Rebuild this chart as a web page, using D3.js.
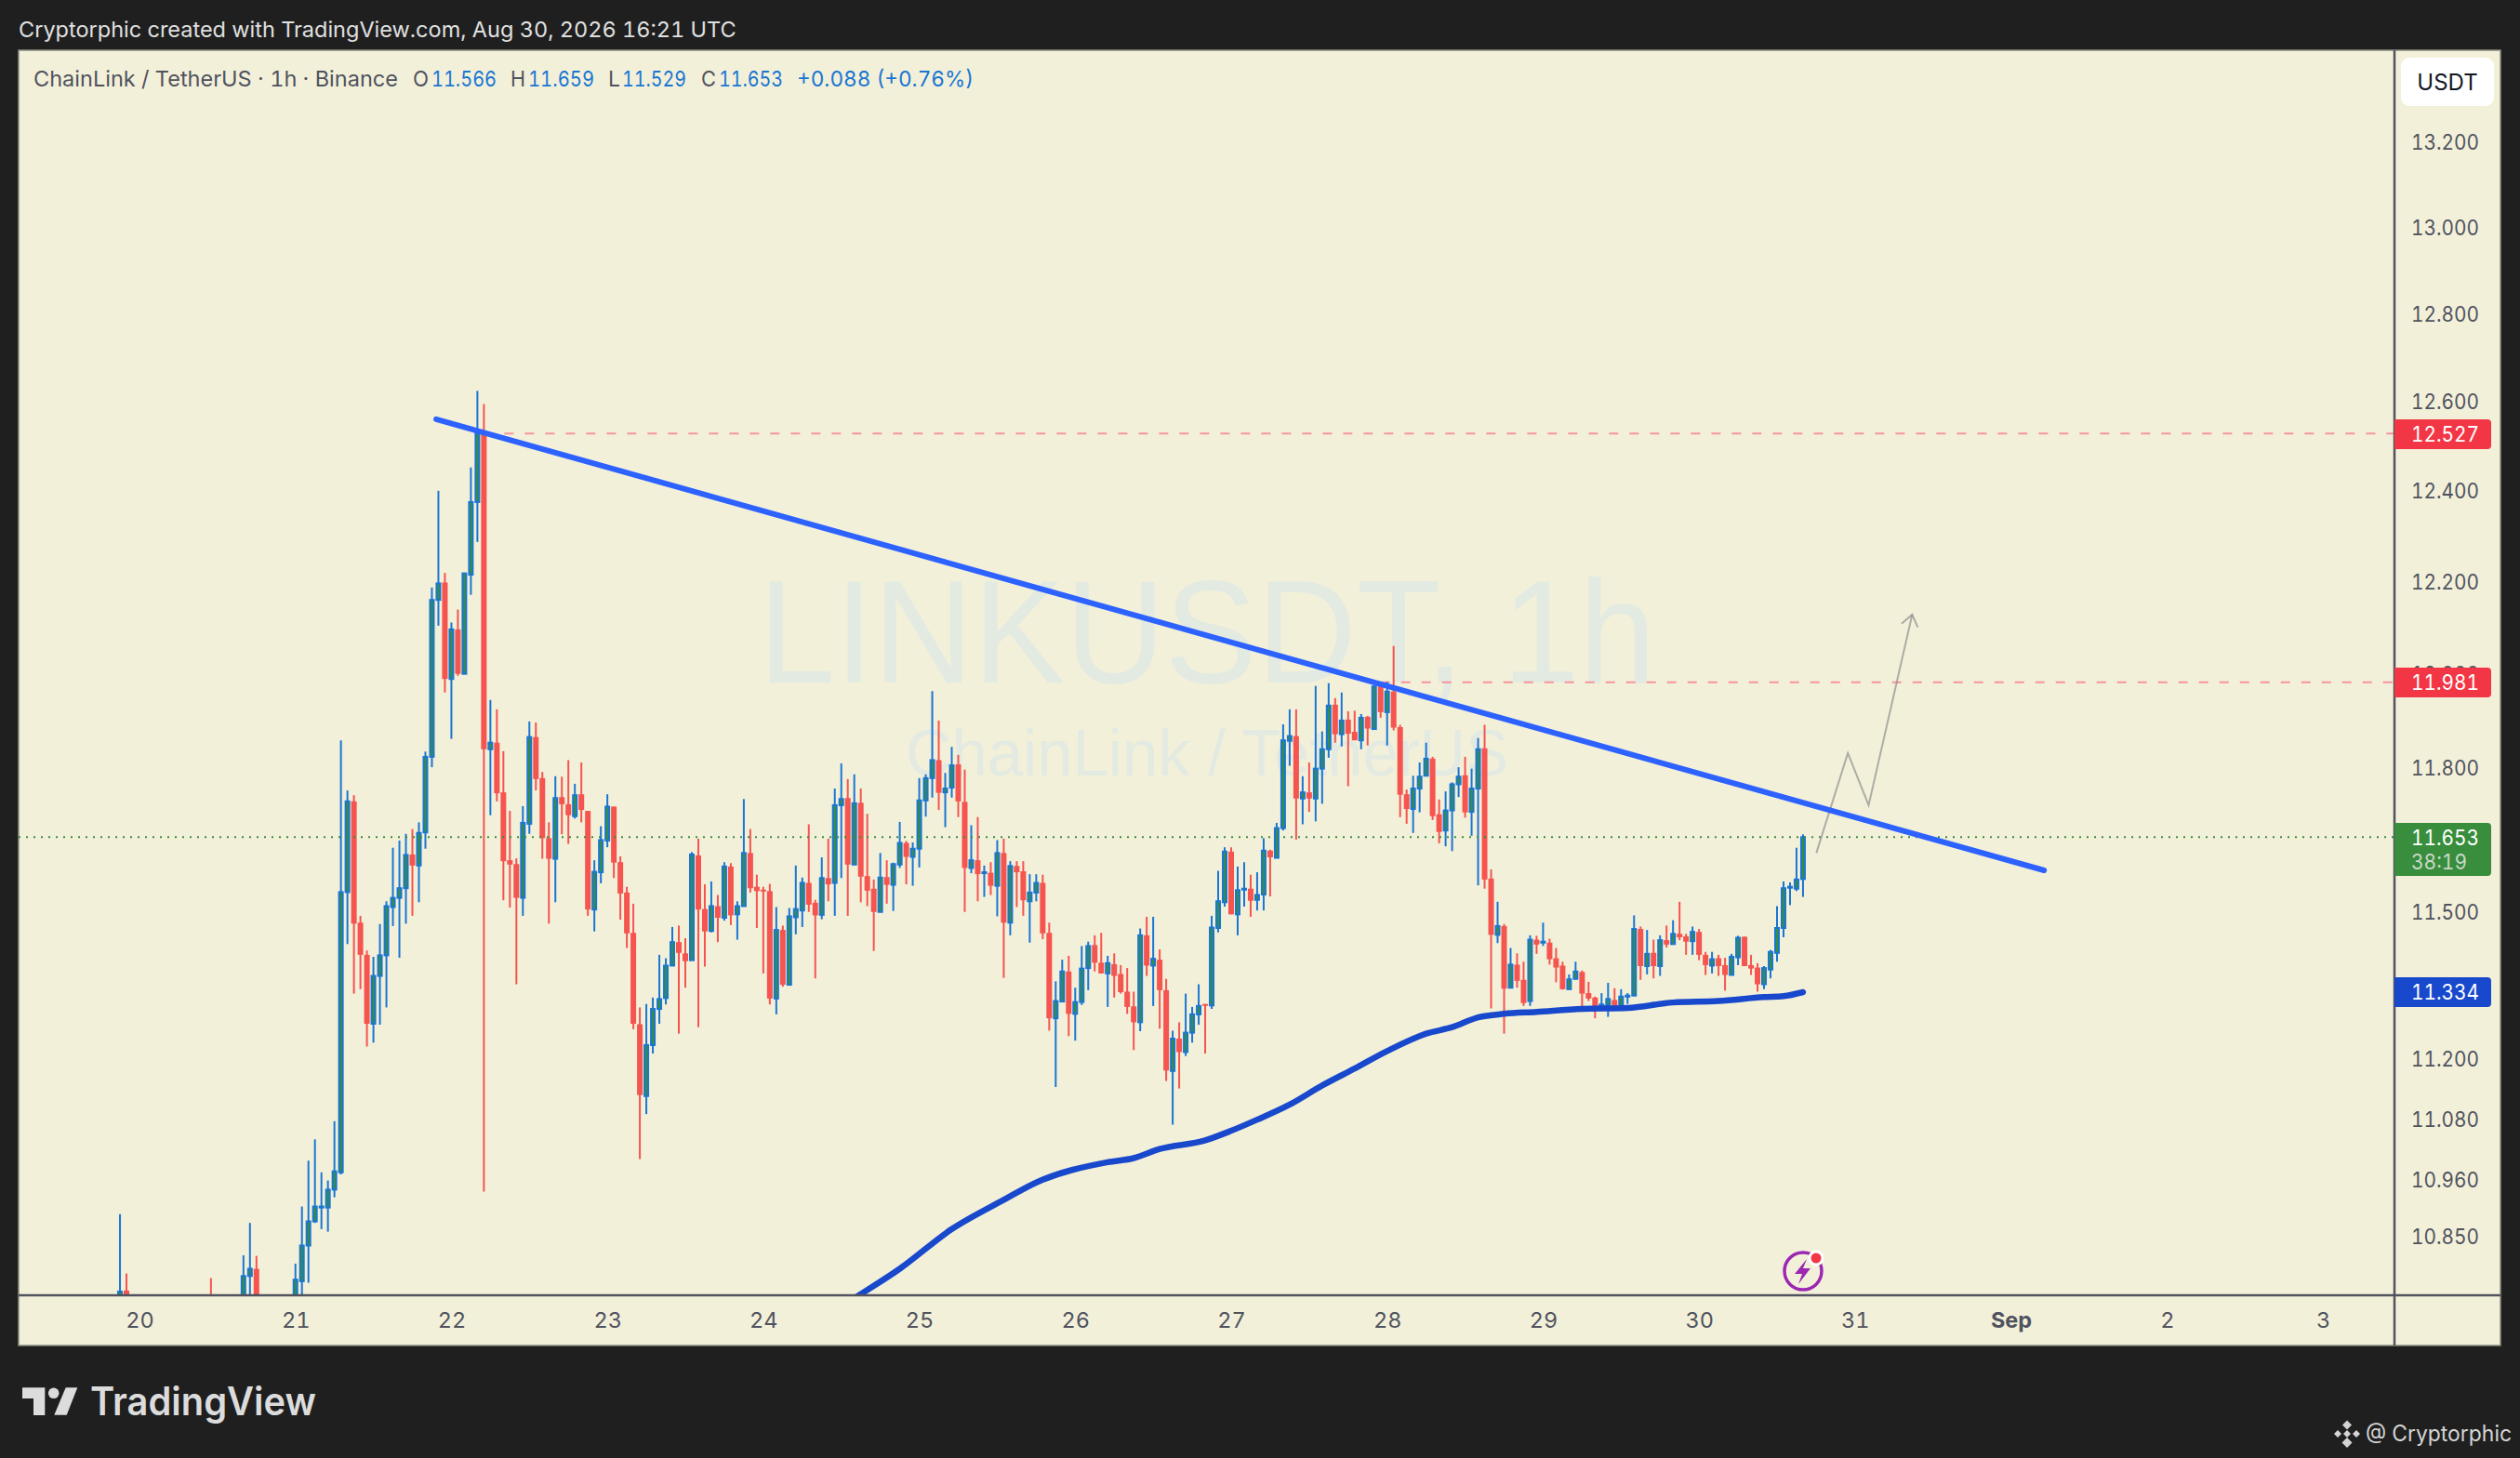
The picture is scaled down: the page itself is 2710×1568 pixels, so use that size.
<!DOCTYPE html>
<html>
<head>
<meta charset="utf-8">
<title>LINKUSDT 1h</title>
<script src="https://cdn.jsdelivr.net/npm/d3@7"></script>
<style>
  html, body { margin: 0; padding: 0; background: #1f1f1f; }
  svg { display: block; }
  text { font-family: Inter, "Noto Sans", sans-serif; font-variant-numeric: tabular-nums; }
</style>
</head>
<body>
<svg width="2710" height="1568"></svg>
<script>
// candles are hourly, hour 0 = Aug 20 00:00 UTC. null = bar sits below the pane, nothing to read
const firstHour = -3;
const opens = [10.70,10.744,null,null,null,null,null,null,null,null,null,null,null,null,10.72,null,null,null,null,10.70,10.772,10.786,null,null,null,null,null,
  10.71,10.762,10.831,10.878,10.905,10.905,10.94,10.974,11.539,11.728,11.476,11.41,11.27,11.367,11.409,11.508,11.527,11.547,11.617,11.594,11.663,11.822,12.159,12.197,
  11.988,12.095,11.999,12.214,12.374,12.527,11.838,11.852,11.747,11.605,11.597,11.527,11.681,11.864,11.777,11.651,11.608,11.737,11.722,11.697,11.743,11.708,11.503,11.58,
  11.646,11.717,11.601,11.538,11.455,11.269,11.125,11.227,11.3,11.322,11.388,11.436,11.413,11.399,11.615,11.504,11.459,11.51,11.486,11.592,11.493,11.51,11.62,11.55,
  11.544,11.541,11.321,11.461,11.349,11.487,11.501,11.558,11.517,11.492,11.568,11.558,11.72,11.735,11.596,11.725,11.572,11.546,11.498,11.57,11.554,11.596,11.641,11.612,
  11.629,11.73,11.777,11.815,11.747,11.757,11.806,11.727,11.589,11.605,11.579,11.579,11.552,11.62,11.476,11.593,11.582,11.52,11.538,11.558,11.455,11.281,11.315,11.376,
  11.29,11.314,11.383,11.43,11.394,11.372,11.391,11.371,11.335,11.305,11.273,11.45,11.388,11.4,11.338,11.175,11.24,11.213,11.252,11.289,11.31,11.307,11.465,11.518,
  11.623,11.493,11.544,11.546,11.523,11.534,11.625,11.61,11.672,11.856,11.866,11.734,11.747,11.734,11.797,11.838,11.933,11.87,11.901,11.875,11.857,11.907,11.881,11.972,
  11.917,11.961,11.885,11.743,11.712,11.755,11.782,11.818,11.701,11.667,11.709,11.764,11.783,11.706,11.755,11.84,11.567,11.451,11.469,11.343,11.39,11.359,11.316,11.441,
  11.435,11.435,11.403,11.388,11.34,11.361,11.375,11.332,11.323,11.308,11.307,11.318,11.302,11.325,11.327,11.463,11.387,11.414,11.387,11.44,11.432,11.453,11.448,11.438,
  11.457,11.41,11.388,11.403,11.389,11.369,11.405,11.447,11.389,11.384,11.35,11.38,11.414,11.465,11.548,11.546,11.566];
const highs = [10.892,10.777,null,null,null,null,null,null,null,null,null,null,null,null,10.768,null,null,null,null,10.812,10.875,10.811,null,null,null,null,null,
  10.796,10.907,10.997,11.039,10.974,10.958,11.075,11.857,11.751,11.741,11.49,11.419,11.406,11.473,11.52,11.631,11.646,11.66,11.67,11.684,11.833,12.186,12.399,12.218,
  12.11,12.138,12.217,12.451,12.623,12.593,11.943,11.923,11.834,11.708,11.609,11.718,11.897,11.895,11.79,11.684,11.781,11.78,11.815,11.765,11.81,11.708,11.605,11.676,
  11.743,11.717,11.613,11.55,11.515,11.303,11.31,11.323,11.41,11.403,11.467,11.47,11.444,11.622,11.65,11.555,11.561,11.533,11.601,11.599,11.52,11.733,11.67,11.575,
  11.55,11.556,11.508,11.47,11.506,11.594,11.569,11.68,11.523,11.611,11.65,11.755,11.808,11.775,11.785,11.755,11.702,11.565,11.62,11.605,11.6,11.685,11.645,11.642,
  11.777,11.785,11.962,11.899,11.788,11.843,11.826,11.795,11.678,11.695,11.594,11.601,11.647,11.65,11.603,11.603,11.603,11.576,11.576,11.575,11.476,11.356,11.4,11.408,
  11.343,11.428,11.437,11.45,11.455,11.408,11.413,11.389,11.383,11.335,11.464,11.488,11.488,11.421,11.361,11.256,11.273,11.331,11.304,11.35,11.31,11.49,11.583,11.632,
  11.632,11.592,11.601,11.575,11.58,11.651,11.627,11.683,11.891,11.923,11.923,11.781,11.81,11.973,11.876,11.979,11.947,11.959,11.919,11.92,11.913,11.909,11.975,11.981,
  11.982,12.059,11.89,11.753,11.782,11.81,11.852,11.822,11.732,11.749,11.768,11.80,11.822,11.797,11.862,11.89,11.586,11.519,11.473,11.424,11.413,11.396,11.45,11.449,
  11.476,11.443,11.424,11.396,11.37,11.396,11.378,11.355,11.325,11.332,11.353,11.342,11.34,11.332,11.491,11.468,11.461,11.441,11.45,11.47,11.481,11.519,11.453,11.468,
  11.463,11.416,11.416,11.41,11.404,11.412,11.449,11.447,11.41,11.393,11.387,11.42,11.51,11.561,11.559,11.631,11.659];
const lows = [10.70,10.70,null,null,null,null,null,null,null,null,null,null,null,null,10.69,null,null,null,null,10.70,10.70,10.70,null,null,null,null,null,
  10.70,10.70,10.759,10.875,10.863,10.858,10.925,10.97,11.432,11.331,11.34,11.224,11.232,11.268,11.303,11.469,11.404,11.474,11.49,11.518,11.629,11.80,12.103,11.959,
  11.86,11.995,11.999,12.17,12.286,10.936,11.699,11.728,11.522,11.507,11.35,11.49,11.66,11.751,11.608,11.474,11.518,11.659,11.639,11.692,11.684,11.49,11.458,11.557,
  11.632,11.568,11.482,11.424,11.259,11.0,11.089,11.21,11.27,11.309,11.388,11.25,11.343,11.399,11.263,11.386,11.456,11.436,11.48,11.471,11.441,11.51,11.538,11.465,
  11.372,11.309,11.289,11.345,11.349,11.452,11.467,11.498,11.362,11.483,11.52,11.49,11.568,11.49,11.596,11.518,11.51,11.418,11.498,11.515,11.5,11.589,11.555,11.552,
  11.59,11.696,11.736,11.71,11.674,11.736,11.695,11.498,11.578,11.52,11.529,11.533,11.489,11.363,11.45,11.508,11.49,11.435,11.52,11.442,11.256,11.143,11.315,11.245,
  11.236,11.308,11.338,11.376,11.372,11.304,11.323,11.331,11.29,11.217,11.255,11.367,11.306,11.26,11.155,11.068,11.14,11.205,11.232,11.268,11.21,11.3,11.456,11.509,
  11.493,11.45,11.509,11.488,11.501,11.501,11.53,11.61,11.667,11.803,11.648,11.68,11.706,11.686,11.723,11.82,11.852,11.844,11.76,11.857,11.838,11.846,11.881,11.905,
  11.846,11.878,11.695,11.681,11.662,11.705,11.782,11.689,11.64,11.634,11.624,11.737,11.694,11.656,11.553,11.546,11.301,11.434,11.25,11.343,11.343,11.306,11.306,11.412,
  11.428,11.39,11.354,11.339,11.34,11.359,11.294,11.316,11.281,11.301,11.284,11.3,11.302,11.31,11.327,11.359,11.37,11.362,11.367,11.425,11.432,11.44,11.41,11.41,
  11.399,11.369,11.372,11.367,11.337,11.369,11.389,11.387,11.369,11.335,11.34,11.362,11.396,11.446,11.512,11.541,11.529];
const closes = [10.742,10.70,null,null,null,null,null,null,null,null,null,null,null,null,10.70,null,null,null,null,10.772,10.786,10.71,null,null,null,null,null,
  10.765,10.831,10.878,10.907,10.907,10.94,10.976,11.539,11.728,11.474,11.41,11.27,11.367,11.409,11.51,11.527,11.547,11.616,11.594,11.662,11.822,12.159,12.195,11.988,
  12.095,11.999,12.217,12.374,12.527,11.838,11.852,11.745,11.603,11.596,11.527,11.683,11.864,11.775,11.651,11.608,11.735,11.722,11.699,11.741,11.71,11.503,11.581,11.647,
  11.717,11.6,11.536,11.454,11.27,11.127,11.227,11.3,11.32,11.388,11.436,11.414,11.397,11.617,11.503,11.458,11.51,11.486,11.592,11.491,11.51,11.62,11.547,11.541,
  11.541,11.321,11.461,11.349,11.489,11.504,11.558,11.513,11.491,11.568,11.555,11.72,11.733,11.596,11.724,11.571,11.542,11.498,11.569,11.554,11.597,11.641,11.612,11.629,
  11.73,11.777,11.815,11.746,11.755,11.804,11.728,11.589,11.605,11.576,11.58,11.552,11.62,11.476,11.593,11.58,11.522,11.538,11.558,11.454,11.281,11.316,11.376,11.29,
  11.314,11.382,11.428,11.394,11.372,11.393,11.367,11.334,11.304,11.273,11.45,11.388,11.402,11.338,11.176,11.24,11.213,11.252,11.289,11.306,11.307,11.466,11.52,11.623,
  11.493,11.543,11.546,11.521,11.533,11.625,11.611,11.672,11.857,11.866,11.734,11.747,11.734,11.797,11.838,11.931,11.87,11.899,11.871,11.857,11.905,11.882,11.972,11.917,
  11.961,11.884,11.742,11.712,11.755,11.78,11.818,11.697,11.664,11.709,11.764,11.78,11.705,11.755,11.838,11.565,11.451,11.469,11.341,11.39,11.357,11.312,11.441,11.431,
  11.437,11.401,11.384,11.34,11.36,11.376,11.331,11.321,11.305,11.309,11.32,11.3,11.325,11.327,11.463,11.387,11.412,11.387,11.44,11.431,11.453,11.446,11.437,11.457,
  11.41,11.389,11.401,11.387,11.369,11.406,11.445,11.387,11.382,11.35,11.383,11.416,11.465,11.547,11.55,11.565,11.653];

// moving average, read at these hours
const maHours = [108,111,117,125,133,138,149,153,157,164,168,172,177,182,187,192,198,202,206,210,215,222,229,236,243,250,253,256];
const maValues = [10.713,10.737,10.786,10.863,10.92,10.954,10.994,11.002,11.02,11.037,11.056,11.078,11.108,11.146,11.18,11.215,11.25,11.263,11.283,11.29,11.294,11.30,11.302,11.313,11.316,11.324,11.326,11.334];

// drawings
const trendHours = [45.66,293.1];
const trendPrices = [12.559,11.584];
const arrowHours = [258.05,262.9,266.1,272.8];
const arrowPrices = [11.62,11.83,11.72,12.127];
const levelPrices = [12.527,11.981];
const levelStart = [53,191];
const lastPrice = 11.653;
const maPrice = 11.334;

const priceTicks = [13.2,13.0,12.8,12.6,12.4,12.2,12.0,11.8,11.5,11.2,11.08,10.96,10.85];
const dayHours = [0,24,48,72,96,120,144,168,192,216,240,264,288,312,336];
const dayLabels = ['20','21','22','23','24','25','26','27','28','29','30','31','Sep','2','3'];

(function (d3) {
  'use strict';

  const svg = d3.select('svg');
  const pane = { left: 20, top: 54, right: 2575, bottom: 1393, outerRight: 2689, outerBottom: 1447 };
  const axisColor = '#50535e';
  const upBorder = '#1976d2', upFill = '#388e3c', downColor = '#f5544f';

  const x = d3.scaleLinear().domain([0, 336]).range([150, 2498]);
  const y = d3.scaleLog().domain([13.2, 10.85]).range([152, 1329]);

  svg.append('rect').attr('width', 2710).attr('height', 1568).attr('fill', '#1f1f1f');
  svg.append('rect')
    .attr('x', pane.left).attr('y', pane.top)
    .attr('width', pane.outerRight - pane.left).attr('height', pane.outerBottom - pane.top)
    .attr('fill', '#f3f0da').attr('stroke', '#8b8b80').attr('stroke-width', 1.5);

  svg.append('defs').append('clipPath').attr('id', 'plot').append('rect')
    .attr('x', pane.left).attr('y', pane.top)
    .attr('width', pane.right - pane.left).attr('height', pane.bottom - pane.top);

  // header
  svg.append('text').attr('x', 20).attr('y', 40)
    .attr('font-size', 23.5).attr('fill', '#e0e0e0')
    .text('Cryptorphic created with TradingView.com, Aug 30, 2026 16:21 UTC');

  // legend: x, text, colour, width
  const legendParts = [
    [36, 'ChainLink / TetherUS · 1h · Binance', axisColor, 392],
    [444, 'O', axisColor, 17], [464, '11.566', upBorder, 70],
    [549, 'H', axisColor, 16], [568, '11.659', upBorder, 71],
    [654, 'L', axisColor, 13], [669, '11.529', upBorder, 69],
    [754, 'C', axisColor, 16], [773, '11.653', upBorder, 69],
    [857, '+0.088 (+0.76%)', upBorder, 190]
  ];
  svg.append('g').selectAll('text').data(legendParts).join('text')
    .attr('x', d => d[0]).attr('y', 92.5).attr('font-size', 23.5)
    .attr('fill', d => d[2])
    .attr('textLength', d => d[3]).attr('lengthAdjust', 'spacingAndGlyphs')
    .text(d => d[1]);

  // watermark
  const watermark = svg.append('g').attr('fill', '#e3eae1').attr('text-anchor', 'middle');
  watermark.append('text').attr('x', 1298).attr('y', 734)
    .style('font-family', '"Liberation Sans", sans-serif').attr('font-size', 157)
    .attr('textLength', 965).attr('lengthAdjust', 'spacingAndGlyphs').text('LINKUSDT, 1h');
  watermark.append('text').attr('x', 1298).attr('y', 834)
    .style('font-family', '"Liberation Sans", sans-serif').attr('font-size', 71)
    .attr('textLength', 648).attr('lengthAdjust', 'spacingAndGlyphs').text('ChainLink / TetherUS');

  const plot = svg.append('g').attr('clip-path', 'url(#plot)');

  // dashed horizontal levels
  plot.selectAll('line.level').data(levelPrices).join('line')
    .attr('class', 'level')
    .attr('x1', (d, i) => x(levelStart[i])).attr('x2', pane.right)
    .attr('y1', d => y(d)).attr('y2', d => y(d))
    .attr('stroke', '#f7949c').attr('stroke-width', 2).attr('stroke-dasharray', '10 12');

  // candles
  const candles = opens.map((o, i) => ({
    h: firstHour + i, o, hi: highs[i], lo: lows[i], c: closes[i]
  })).filter(d => d.o !== null);
  const isUp = d => d.c >= d.o;

  plot.selectAll('line.wick').data(candles).join('line')
    .attr('class', 'wick')
    .attr('x1', d => x(d.h)).attr('x2', d => x(d.h))
    .attr('y1', d => y(d.hi)).attr('y2', d => y(d.lo))
    .attr('stroke', d => isUp(d) ? upBorder : downColor).attr('stroke-width', 2);

  plot.selectAll('rect.body').data(candles).join('rect')
    .attr('class', 'body')
    .attr('x', d => x(d.h) - (isUp(d) ? 2 : 3))
    .attr('width', d => isUp(d) ? 4 : 6)
    .attr('y', d => y(Math.max(d.o, d.c)))
    .attr('height', d => Math.max(isUp(d) ? 1 : 2, y(Math.min(d.o, d.c)) - y(Math.max(d.o, d.c))))
    .attr('fill', d => isUp(d) ? upFill : downColor)
    .attr('stroke', d => isUp(d) ? upBorder : 'none').attr('stroke-width', 2);

  // last price
  plot.append('line')
    .attr('x1', pane.left).attr('x2', pane.right)
    .attr('y1', y(lastPrice)).attr('y2', y(lastPrice))
    .attr('stroke', upFill).attr('stroke-width', 2).attr('stroke-dasharray', '2 6');

  // moving average
  const maLine = d3.line().x(d => x(d[0])).y(d => y(d[1])).curve(d3.curveMonotoneX);
  plot.append('path')
    .attr('d', maLine(maHours.map((h, i) => [h, maValues[i]])))
    .attr('fill', 'none').attr('stroke', '#1848cc').attr('stroke-width', 6.5).attr('stroke-linecap', 'round');

  // projected path
  const straight = d3.line().x(d => x(d[0])).y(d => y(d[1]));
  const arrowPts = arrowHours.map((h, i) => [h, arrowPrices[i]]);
  const tip = [x(arrowPts[3][0]), y(arrowPts[3][1])];
  const prev = [x(arrowPts[2][0]), y(arrowPts[2][1])];
  const ang = Math.atan2(tip[1] - prev[1], tip[0] - prev[0]);
  const headLen = 15;
  const arrow = plot.append('g').attr('fill', 'none').attr('stroke', '#8f8f8f').attr('stroke-opacity', 0.7).attr('stroke-width', 2);
  arrow.append('path').attr('d', straight(arrowPts));
  arrow.append('path').attr('d', d3.line()([
    [tip[0] + headLen * Math.cos(ang + 2.5), tip[1] + headLen * Math.sin(ang + 2.5)],
    tip,
    [tip[0] + headLen * Math.cos(ang - 2.5), tip[1] + headLen * Math.sin(ang - 2.5)]
  ]));

  // trend line
  plot.append('path')
    .attr('d', straight(trendHours.map((h, i) => [h, trendPrices[i]])))
    .attr('fill', 'none').attr('stroke', '#2d62ff').attr('stroke-width', 6).attr('stroke-linecap', 'round');

  // axes
  const numWidth = 73;
  const yAxis = d3.axisRight(y).tickValues(priceTicks).tickFormat(d3.format('.3f')).tickSize(0).tickPadding(18);
  const yAxisG = svg.append('g').attr('transform', `translate(${pane.right},0)`).call(yAxis);
  yAxisG.select('.domain').remove();
  yAxisG.selectAll('text').attr('font-size', 23).attr('fill', axisColor).attr('dy', '0.37em')
    .attr('textLength', numWidth).attr('lengthAdjust', 'spacingAndGlyphs')
    .style('font-family', 'Inter, sans-serif');

  const xAxis = d3.axisBottom(x).tickValues(dayHours).tickFormat((d, i) => dayLabels[i]).tickSize(0).tickPadding(0);
  const xAxisG = svg.append('g').attr('transform', `translate(0,1428)`).call(xAxis);
  xAxisG.select('.domain').remove();
  xAxisG.selectAll('text').attr('dy', 0).attr('font-size', 23.5).attr('fill', axisColor)
    .style('font-family', 'Inter, sans-serif')
    .attr('font-weight', (d, i) => dayLabels[i] === 'Sep' ? 700 : 400);

  svg.append('line').attr('x1', pane.left).attr('x2', pane.outerRight)
    .attr('y1', pane.bottom).attr('y2', pane.bottom).attr('stroke', axisColor).attr('stroke-width', 2.5);
  svg.append('line').attr('x1', pane.right).attr('x2', pane.right)
    .attr('y1', pane.top).attr('y2', pane.outerBottom).attr('stroke', axisColor).attr('stroke-width', 2.5);

  // USDT button
  svg.append('rect').attr('x', 2582).attr('y', 62).attr('width', 100).attr('height', 52).attr('rx', 9).attr('fill', '#fff');
  svg.append('text').attr('x', 2632).attr('y', 97).attr('text-anchor', 'middle')
    .attr('font-size', 24).attr('fill', '#131722').text('USDT');

  // price tags
  const tags = [
    { v: levelPrices[0], top: 451, h: 32, fill: '#f23645' },
    { v: levelPrices[1], top: 718, h: 32, fill: '#f23645' },
    { v: lastPrice, top: 885, h: 57, fill: upFill },
    { v: maPrice, top: 1051, h: 32, fill: '#1848cc' }
  ];
  tags.forEach(t => {
    const w = 2679 - pane.right, r = 4, X = pane.right, Y = t.top;
    svg.append('path').attr('fill', t.fill)
      .attr('d', `M${X},${Y}H${X + w - r}q${r},0 ${r},${r}V${Y + t.h - r}q0,${r} ${-r},${r}H${X}Z`);
    svg.append('text').attr('x', 2593).attr('y', y(t.v) + 8.5)
      .attr('font-size', 23).attr('fill', '#fff')
      .attr('textLength', numWidth).attr('lengthAdjust', 'spacingAndGlyphs')
      .text(d3.format('.3f')(t.v));
  });
  svg.append('text').attr('x', 2593).attr('y', 935).attr('font-size', 23).attr('fill', '#c9d8c9')
    .attr('textLength', 60).attr('lengthAdjust', 'spacingAndGlyphs').text('38:19');

  // alert icon
  const icon = svg.append('g').attr('transform', 'translate(1939,1367)');
  icon.append('circle').attr('r', 22).attr('fill', '#fff');
  icon.append('circle').attr('r', 20).attr('fill', '#f3f0da').attr('stroke', '#9c27b0').attr('stroke-width', 3.5);
  icon.append('path').attr('d', 'M4,-13 L-9,3 L-1,3 L-5,14 L8,-3 L0,-3 Z').attr('fill', '#9c27b0');
  icon.append('circle').attr('cx', 14).attr('cy', -14).attr('r', 8.5).attr('fill', '#fff');
  icon.append('circle').attr('cx', 14).attr('cy', -14).attr('r', 5.5).attr('fill', '#f23645');

  // footer logo
  const logo = svg.append('g').attr('fill', '#dcdcdc');
  logo.append('path').attr('d', 'M24,1492.3H48.3V1522H36V1504H24Z');
  logo.append('circle').attr('cx', 57.7).attr('cy', 1498.3).attr('r', 5.8);
  logo.append('path').attr('d', 'M70.7,1492.3H83.3L71.7,1521.7H58.3Z');
  logo.append('text').attr('x', 97).attr('y', 1522).attr('font-size', 42).attr('font-weight', 600)
    .attr('textLength', 243).attr('lengthAdjust', 'spacingAndGlyphs').text('TradingView');

  // binance mark and handle
  const mark = svg.append('g').attr('transform', 'translate(2524,1542)').attr('fill', '#d4d4d4');
  [[0, -9.5, 5], [-10, 0, 4], [10, 0, 4], [0, 0, 4], [0, 9.5, 5.5]].forEach(p => {
    mark.append('path').attr('d', `M${p[0]},${p[1] - p[2]}L${p[0] + p[2]},${p[1]}L${p[0]},${p[1] + p[2]}L${p[0] - p[2]},${p[1]}Z`);
  });
  svg.append('text').attr('x', 2544).attr('y', 1550).attr('font-size', 24).attr('fill', '#d4d4d4')
    .attr('textLength', 157).attr('lengthAdjust', 'spacingAndGlyphs').text('@ Cryptorphic');
}(d3));
</script>
</body>
</html>
